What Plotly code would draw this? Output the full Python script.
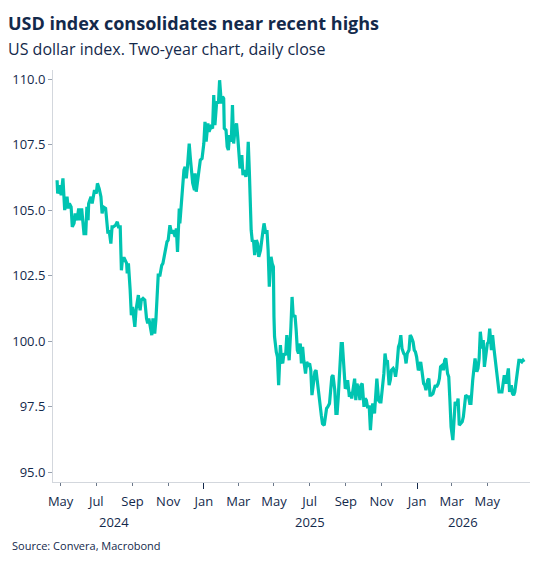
import plotly.graph_objects as go

TITLE = "USD index consolidates near recent highs"
SUBTITLE = "US dollar index. Two-year chart, daily close"
SOURCE = "Source: Convera, Macrobond"

dates = [
    "2024-04-25", "2024-04-26", "2024-04-29", "2024-05-02", "2024-05-05", "2024-05-07", "2024-05-08",
    "2024-05-12", "2024-05-14", "2024-05-16", "2024-05-19", "2024-05-21", "2024-05-24", "2024-05-26",
    "2024-05-29", "2024-06-01", "2024-06-03", "2024-06-06", "2024-06-08", "2024-06-10", "2024-06-13",
    "2024-06-15", "2024-06-17", "2024-06-18", "2024-06-22", "2024-06-24", "2024-06-26", "2024-06-28",
    "2024-07-01", "2024-07-03", "2024-07-06", "2024-07-09", "2024-07-11", "2024-07-13", "2024-07-17",
    "2024-07-19", "2024-07-21", "2024-07-23", "2024-07-26", "2024-07-28", "2024-07-30", "2024-08-03",
    "2024-08-06", "2024-08-08", "2024-08-11", "2024-08-13", "2024-08-15", "2024-08-18", "2024-08-22",
    "2024-08-23", "2024-08-25", "2024-08-28", "2024-08-30", "2024-09-01", "2024-09-05", "2024-09-07",
    "2024-09-09", "2024-09-11", "2024-09-14", "2024-09-16", "2024-09-19", "2024-09-22", "2024-09-25",
    "2024-09-27", "2024-09-29", "2024-10-02", "2024-10-04", "2024-10-06", "2024-10-09", "2024-10-11",
    "2024-10-13", "2024-10-15", "2024-10-18", "2024-10-21", "2024-10-23", "2024-10-26", "2024-10-28",
    "2024-10-30", "2024-11-01", "2024-11-04", "2024-11-07", "2024-11-09", "2024-11-13", "2024-11-15",
    "2024-11-17", "2024-11-20", "2024-11-21", "2024-11-23", "2024-11-25", "2024-11-28", "2024-11-30",
    "2024-12-02", "2024-12-04", "2024-12-07", "2024-12-09", "2024-12-11", "2024-12-13", "2024-12-16",
    "2024-12-17", "2024-12-19", "2024-12-22", "2024-12-26", "2024-12-29", "2025-01-01", "2025-01-03",
    "2025-01-05",
    "2025-01-08", "2025-01-10", "2025-01-13", "2025-01-16", "2025-01-18", "2025-01-20", "2025-01-23",
    "2025-01-26", "2025-01-28", "2025-01-31", "2025-02-02", "2025-02-04", "2025-02-05", "2025-02-08",
    "2025-02-10", "2025-02-12", "2025-02-14", "2025-02-17", "2025-02-19", "2025-02-21", "2025-02-23",
    "2025-02-26", "2025-02-28", "2025-03-02", "2025-03-04", "2025-03-07", "2025-03-09", "2025-03-11",
    "2025-03-14", "2025-03-16", "2025-03-18", "2025-03-20", "2025-03-23", "2025-03-25", "2025-03-27",
    "2025-03-29", "2025-04-01", "2025-04-03", "2025-04-05", "2025-04-08", "2025-04-10", "2025-04-12",
    "2025-04-14", "2025-04-17", "2025-04-19", "2025-04-21", "2025-04-23", "2025-04-26", "2025-04-28",
    "2025-04-30", "2025-05-01", "2025-05-02", "2025-05-05", "2025-05-07", "2025-05-09", "2025-05-12",
    "2025-05-14", "2025-05-16", "2025-05-18", "2025-05-21", "2025-05-23", "2025-05-25", "2025-05-27",
    "2025-05-30", "2025-06-01", "2025-06-03", "2025-06-06", "2025-06-08", "2025-06-10", "2025-06-12",
    "2025-06-15", "2025-06-17", "2025-06-19", "2025-06-21", "2025-06-24", "2025-06-26", "2025-06-28",
    "2025-07-01", "2025-07-03", "2025-07-05", "2025-07-07", "2025-07-10", "2025-07-12", "2025-07-14",
    "2025-07-16", "2025-07-19", "2025-07-21", "2025-07-23", "2025-07-26", "2025-07-28", "2025-07-30",
    "2025-08-01", "2025-08-04", "2025-08-06", "2025-08-08", "2025-08-10", "2025-08-13", "2025-08-15",
    "2025-08-17", "2025-08-19", "2025-08-22", "2025-08-24", "2025-08-26", "2025-08-29", "2025-08-31",
    "2025-09-02", "2025-09-04", "2025-09-07", "2025-09-09", "2025-09-11", "2025-09-13", "2025-09-16",
    "2025-09-18", "2025-09-20", "2025-09-23", "2025-09-25", "2025-09-27", "2025-09-29", "2025-10-02",
    "2025-10-04", "2025-10-06", "2025-10-08", "2025-10-11", "2025-10-13",
    "2025-10-15", "2025-10-17", "2025-10-20", "2025-10-22", "2025-10-24", "2025-10-27", "2025-10-29",
    "2025-10-31", "2025-11-02", "2025-11-05", "2025-11-07", "2025-11-09", "2025-11-11", "2025-11-14",
    "2025-11-16", "2025-11-18", "2025-11-21", "2025-11-23", "2025-11-25", "2025-11-27", "2025-11-30",
    "2025-12-02", "2025-12-04", "2025-12-06", "2025-12-09", "2025-12-11", "2025-12-13", "2025-12-15",
    "2025-12-18", "2025-12-20", "2025-12-22", "2025-12-25", "2025-12-27", "2025-12-29", "2025-12-31",
    "2026-01-03", "2026-01-05", "2026-01-07", "2026-01-09", "2026-01-12", "2026-01-14", "2026-01-16",
    "2026-01-19", "2026-01-21", "2026-01-23", "2026-01-25", "2026-01-28", "2026-01-30", "2026-02-01",
    "2026-02-03", "2026-02-06", "2026-02-08", "2026-02-10", "2026-02-13", "2026-02-15", "2026-02-17",
    "2026-02-19", "2026-02-22", "2026-02-24", "2026-02-26", "2026-02-28", "2026-03-03", "2026-03-05",
    "2026-03-07", "2026-03-10", "2026-03-12", "2026-03-14", "2026-03-16", "2026-03-19", "2026-03-21",
    "2026-03-23", "2026-03-25", "2026-03-28", "2026-03-30", "2026-04-01", "2026-04-03", "2026-04-06",
    "2026-04-08", "2026-04-10", "2026-04-13", "2026-04-15", "2026-04-17", "2026-04-19", "2026-04-22",
    "2026-04-24", "2026-04-26", "2026-04-28", "2026-05-01", "2026-05-03", "2026-05-05", "2026-05-08",
    "2026-05-10", "2026-05-12", "2026-05-14", "2026-05-17", "2026-05-19", "2026-05-21", "2026-05-23",
    "2026-05-26", "2026-05-28", "2026-05-30", "2026-06-02", "2026-06-04", "2026-06-06", "2026-06-08",
    "2026-06-11", "2026-06-13", "2026-06-15", "2026-06-17", "2026-06-20", "2026-06-22", "2026-06-24",
    "2026-06-26", "2026-06-29", "2026-07-01", "2026-07-03",
]

usd_index = [
    106.15, 105.64, 105.96, 105.58, 106.22, 105.52, 105.01,
    105.52, 105.07, 105.26, 105.13, 104.37, 104.50, 104.88,
    104.62, 105.07, 104.62, 105.07, 104.56, 104.11, 104.11,
    105.13, 104.62, 105.26, 105.52, 105.26, 105.52, 105.77,
    105.64, 106.03, 105.83, 105.52, 104.88, 105.13, 105.07,
    104.37, 104.11, 104.24, 103.73, 104.37, 104.37, 104.43,
    104.56, 104.37, 104.37, 102.71, 103.16, 103.16, 102.97,
    102.59, 102.97, 101.95, 100.99, 101.31, 100.55, 101.18,
    101.57, 101.76, 101.18, 101.57, 101.63, 101.57, 100.87,
    100.68, 100.87, 100.55, 100.23, 100.87, 100.29, 100.80,
    101.69, 102.52, 102.52, 102.90, 102.97, 103.35, 103.48,
    103.80, 103.86, 104.43, 104.11, 104.24, 103.99, 104.31,
    103.41, 105.07, 104.50, 105.13, 105.90, 106.54, 106.66,
    106.22, 106.66, 107.55, 106.98, 106.54, 106.03, 105.77,
    106.41, 105.71, 106.34, 106.92, 106.98, 107.55, 108.38,
    107.62,
    108.32, 108.00, 108.19, 108.13, 109.40, 108.25, 109.15,
    109.08, 109.97, 109.08, 109.34, 109.27, 108.13, 108.06,
    107.43, 107.30, 107.87, 107.62, 109.02, 107.55, 108.00,
    108.32, 107.81, 107.17, 106.60, 107.11, 106.34, 106.54,
    106.28, 106.54, 107.62, 106.41, 104.24, 103.80, 103.86,
    103.29, 103.86, 103.73, 103.22, 103.48, 103.99, 104.18,
    104.50, 104.11, 104.24, 103.48, 102.08, 103.22, 102.97,
    102.84, 100.93, 100.17, 99.59, 99.40, 98.32, 99.85,
    99.27, 99.15, 99.53, 99.47, 100.23, 99.78, 99.27,
    100.55, 101.69, 100.93, 100.99, 100.42, 99.66, 99.53,
    99.91, 99.15, 99.78, 99.27, 98.76, 99.21, 99.08,
    99.15, 98.89, 97.94, 98.25, 98.83, 98.89, 98.51,
    97.87, 97.49, 97.17, 96.85, 96.79, 97.11, 97.43,
    97.49, 97.62, 98.13, 98.64, 98.70, 98.13, 97.24,
    97.24, 97.87, 99.02, 99.91, 99.91, 98.76, 98.19,
    98.25, 98.51, 97.87, 98.06, 97.81, 98.19, 98.57,
    97.75, 98.38, 98.13, 97.75, 98.32, 98.38, 97.49,
    97.81, 97.75, 97.49, 97.49, 96.60,
    97.24, 97.62, 97.24, 97.87, 98.57, 97.74, 97.68,
    97.68, 98.13, 98.76, 99.53, 99.21, 99.27, 98.32,
    98.51, 98.89, 98.96, 98.89, 98.64, 98.96, 99.78,
    99.91, 100.23, 99.72, 99.53, 99.47, 99.15, 99.53,
    99.66, 100.23, 100.16, 99.97, 99.66, 99.59, 99.40,
    98.89, 98.96, 99.21, 98.89, 98.38, 98.32, 98.13,
    98.51, 98.57, 97.94, 97.94, 98.00, 98.13, 98.32,
    98.25, 98.38, 98.57, 99.02, 99.08, 98.89, 99.27,
    99.34, 98.76, 98.64, 97.74, 96.73, 96.22, 97.11,
    97.68, 97.55, 97.81, 96.79, 96.85, 96.92, 97.11,
    97.55, 97.94, 97.87, 97.87, 97.62, 97.62, 98.51,
    99.02, 99.34, 98.83, 98.96, 99.34, 100.36, 99.72,
    100.04, 99.02, 99.40, 99.91, 99.97, 100.48, 99.66,
    100.23, 99.78, 99.40, 98.83, 98.38, 98.06, 98.06,
    98.06, 98.38, 98.70, 98.38, 98.76, 98.96, 98.06,
    98.32, 98.00, 97.94, 98.06, 98.51, 98.96, 99.27,
    99.27, 99.21, 99.27, 99.21,
]

month_ticks = [
    "2024-05-01", "2024-07-01", "2024-09-01", "2024-11-01", "2025-01-01", "2025-03-01", "2025-05-01",
    "2025-07-01", "2025-09-01", "2025-11-01", "2026-01-01", "2026-03-01", "2026-05-01",
]
year_ticks = ["2025-01-01", "2026-01-01"]
year_labels = ["2024", "2025", "2026"]
year_label_pos = ["2024-08-01", "2025-07-02", "2026-03-21"]
y_ticks = [95.0, 97.5, 100.0, 102.5, 105.0, 107.5, 110.0]

x_range = ["2024-04-18", "2026-07-13"]
y_range = [94.62, 110.36]

NAVY = "#13294b"
TEAL = "#00C4B1"
AXIS = "#d3d7dd"
FONT = "Open Sans"

fig = go.Figure()
fig.add_trace(go.Scatter(
    x=dates, y=usd_index, mode="lines",
    line=dict(color=TEAL, width=3.2), hoverinfo="skip", showlegend=False,
))
fig.add_trace(go.Scatter(
    x=dates, y=usd_index, mode="lines", xaxis="x2",
    line=dict(width=0, color="rgba(0,0,0,0)"), hoverinfo="skip", showlegend=False,
))

fig.update_layout(
    width=546, height=564,
    margin=dict(l=51, r=16, t=70, b=82),
    paper_bgcolor="white", plot_bgcolor="white",
    font=dict(family=FONT, color=NAVY),
    xaxis=dict(
        type="date", range=x_range, showgrid=False, zeroline=False,
        showline=True, linecolor=AXIS, linewidth=1,
        tickmode="array", tickvals=month_ticks, tickformat="%b",
        ticks="outside", ticklen=3, tickwidth=1, tickcolor="#6b788a",
        ticklabelstandoff=4,
        tickfont=dict(size=13, color=NAVY, family=FONT),
    ),
    xaxis2=dict(
        type="date", range=x_range, overlaying="x", anchor="y", side="bottom",
        showgrid=False, zeroline=False, showline=False,
        tickmode="array", tickvals=year_ticks, showticklabels=False,
        ticks="outside", ticklen=6, tickwidth=1, tickcolor=NAVY,
    ),
    yaxis=dict(
        range=y_range, showgrid=False, zeroline=False,
        showline=True, linecolor=AXIS, linewidth=1,
        tickmode="array", tickvals=y_ticks, tickformat=".1f",
        ticks="outside", ticklen=4, tickwidth=1, tickcolor="#9aa3b0",
        tickfont=dict(size=13, color=NAVY, family=FONT),
    ),
)

annotations = [
    dict(text="<b>" + TITLE + "</b>", xref="paper", yref="paper", x=-0.098, y=1.114,
         xanchor="left", yanchor="middle", showarrow=False,
         font=dict(size=18, color=NAVY, family=FONT)),
    dict(text=SUBTITLE, xref="paper", yref="paper", x=-0.098, y=1.051,
         xanchor="left", yanchor="middle", showarrow=False,
         font=dict(size=16, color=NAVY, family=FONT)),
    dict(text=SOURCE, xref="paper", yref="paper", x=-0.0905, y=-0.155,
         xanchor="left", yanchor="middle", showarrow=False,
         font=dict(size=11, color=NAVY, family=FONT)),
]
for lbl, pos in zip(year_labels, year_label_pos):
    annotations.append(dict(text=lbl, xref="x", yref="paper", x=pos, y=-0.0964,
                            xanchor="center", yanchor="middle", showarrow=False,
                            font=dict(size=13, color=NAVY, family=FONT)))
fig.update_layout(annotations=annotations)

fig.write_html("out.html")
